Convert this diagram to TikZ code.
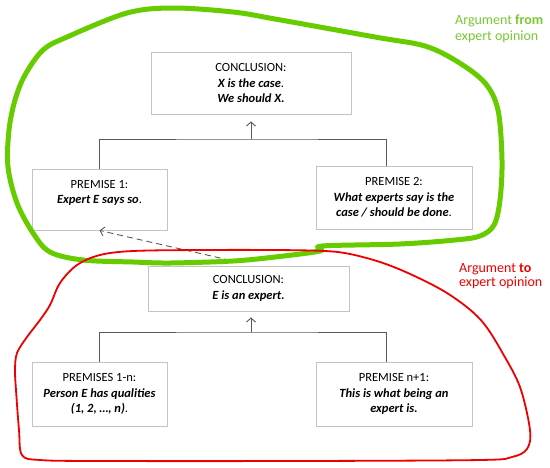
\documentclass[tikz,border=0pt]{standalone}
\usepackage{fontspec}
\setmainfont{Carlito}
\usetikzlibrary{arrows.meta, positioning}

\definecolor{fromgreen}{RGB}{102,204,0}
\definecolor{fromtext}{RGB}{120,200,50}
\definecolor{tored}{RGB}{238,0,0}
\definecolor{boxgray}{RGB}{195,195,195}
\definecolor{linegray}{RGB}{90,90,90}

\newcommand{\claim}[1]{\textbf{\textit{#1}}}

\begin{document}
\begin{tikzpicture}[x=1pt, y=-1pt,
  argbox/.style={draw=boxgray, line width=0.9pt, align=center, inner sep=2pt,
    font=\fontsize{12.5}{15.5}\selectfont},
  link/.style={draw=linegray, line width=0.9pt},
  tip/.style={-{Straight Barb[length=4pt, width=9pt]}},
  lbl/.style={anchor=north west, inner sep=0pt, align=left}]
  \useasboundingbox (0,0) rectangle (550,467);

  % argument from expert opinion
  \node[argbox, minimum width=200pt, minimum height=62pt] (concl1) at (251,83)
    {CONCLUSION:\\ \claim{X is the case}.\\ \claim{We should X.}};
  \node[argbox, minimum width=135pt, minimum height=61pt] (prem1) at (99.5,199.5)
    {PREMISE 1:\\ \claim{Expert E says so}.\\ \mbox{}};
  \node[argbox, minimum width=156pt, minimum height=63pt] (prem2) at (394,197.5)
    {PREMISE 2:\\ \claim{What experts say is the}\\ \claim{case / should be done}.};
  \coordinate (join1) at (251,139);
  \draw[link] (prem1.north) |- (join1) -| ([xshift=-8pt]prem2.north);
  \draw[link, tip, shorten >=7pt] (join1) -- (concl1);

  % argument to expert opinion
  \node[argbox, minimum width=201pt, minimum height=45pt] (concl2) at (248.5,288.5)
    {CONCLUSION:\\ \claim{E is an expert.}};
  \node[argbox, minimum width=135pt, minimum height=64pt] (prem3) at (99.5,394)
    {PREMISES 1-n:\\ \claim{Person E has qualities}\\ \claim{(1, 2, \dots, n)}.};
  \node[argbox, minimum width=156pt, minimum height=64pt] (prem4) at (394,394)
    {PREMISE n+1:\\ \claim{This is what being an}\\ \claim{expert is.}};
  \coordinate (join2) at (251,332);
  \draw[link] (prem3.north) |- (join2) -| ([xshift=-8pt]prem4.north);
  \draw[link, tip, shorten >=6pt] (join2) -- (join2 |- concl2.south);

  \draw[link, dash pattern=on 6pt off 4pt, tip]
    ([xshift=-8.5pt, yshift=3pt]concl2.north) -- (prem1.south);

  % hand drawn loops
  \draw[fromgreen, line width=5pt, line join=round] plot[smooth cycle, tension=0.55] coordinates {
    (43,50) (67,37) (127,13) (173,8) (233,12) (275,19) (375,37) (425,46)
    (458,62) (485,83) (498,110) (502,160) (500,200) (494,225) (480,236)
    (455,240) (400,244) (322,246) (320,251) (275,257) (233,261) (170,263)
    (133,262) (83,260) (50,252) (33,233) (17,203) (8,167) (9,130) (15,100)
    (25,75)};
  \draw[tored, line width=1.8pt, line join=round] plot[smooth cycle, tension=0.55] coordinates {
    (77,265) (100,255) (133,251) (200,250) (275,250) (325,251) (350,254)
    (380,262) (408,273) (442,290) (468,308) (485,325) (502,352) (520,387)
    (530,430) (527,449) (512,457) (480,460) (300,461) (100,461) (40,460)
    (22,455) (19,430) (16,390) (15,370) (17,353) (27,337) (40,320) (50,305)
    (60,283)};

  \node[lbl, text=fromtext, font=\fontsize{14}{15.5}\selectfont] (fromlbl) at (455,15)
    {Argument \textbf{from}\\ expert opinion};
  \node[lbl, text=tored, font=\fontsize{14}{14}\selectfont] (tolbl) at (459,263)
    {Argument \textbf{to}\\ expert opinion};
\end{tikzpicture}
\end{document}
